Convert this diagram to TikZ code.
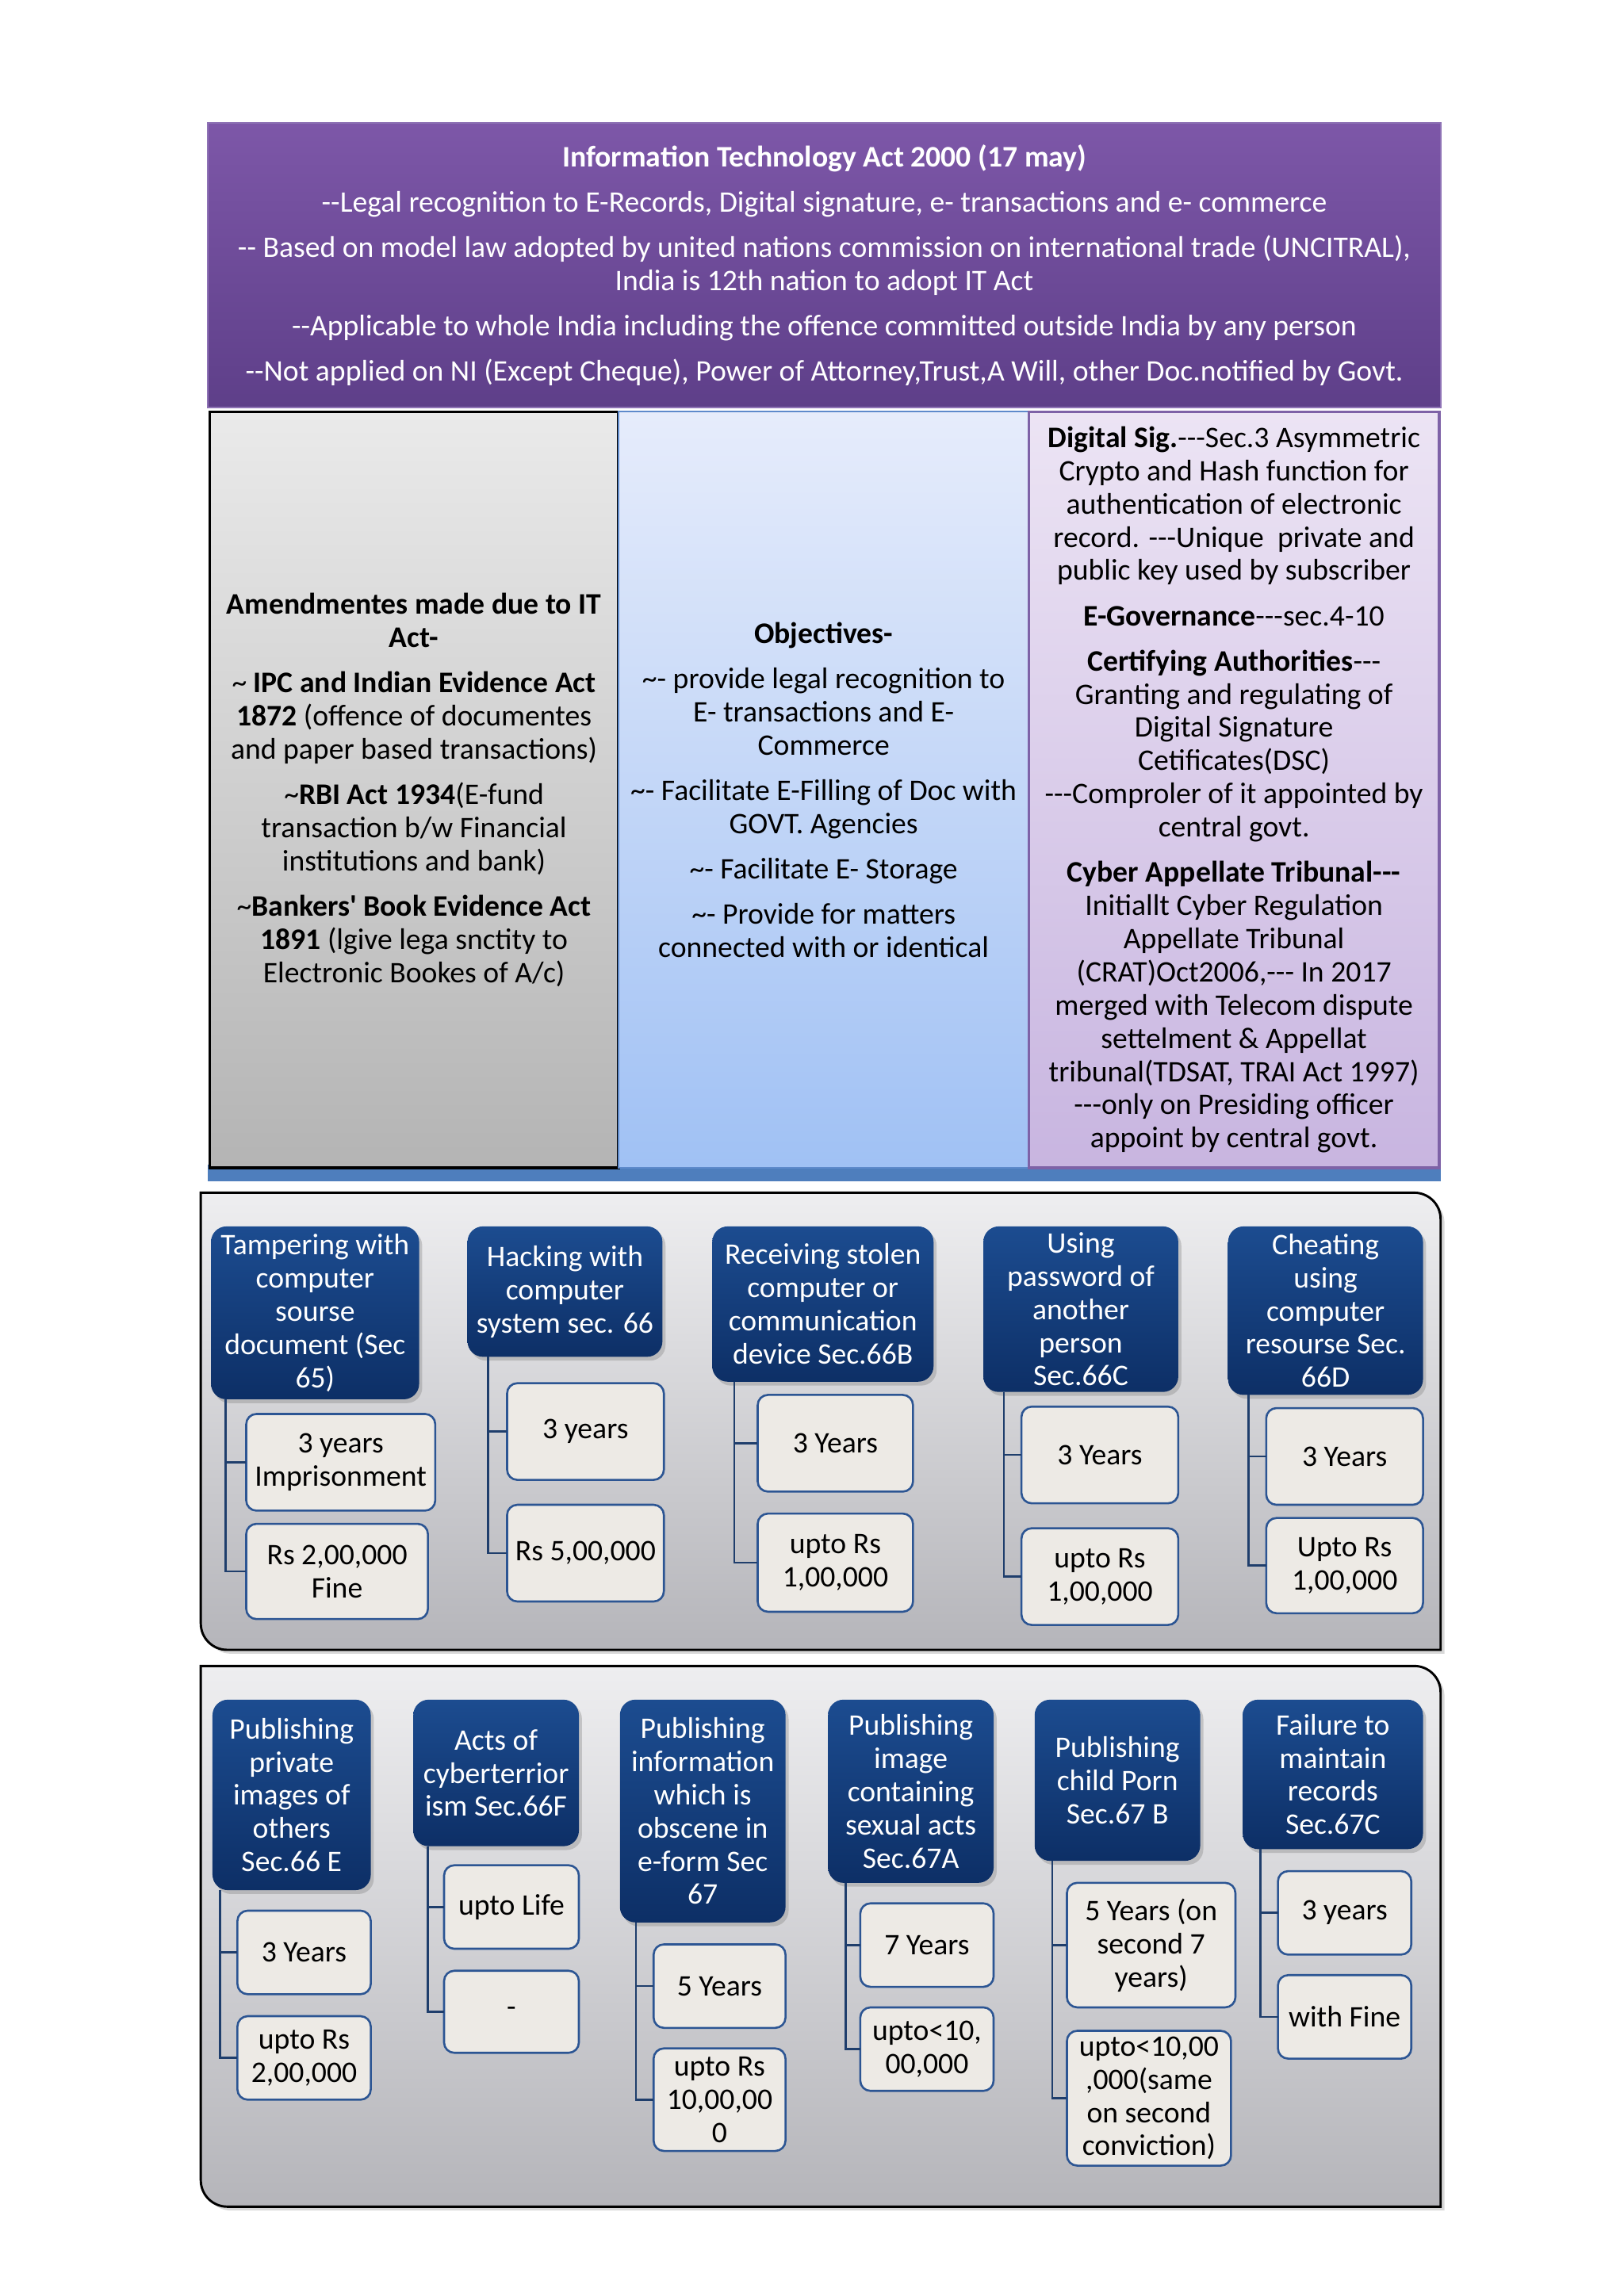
\documentclass[tikz,border=0pt]{standalone}
\usepackage{fontspec}
\newfontfamily\carl{Carlito}
\usetikzlibrary{shadows}
\definecolor{purT}{HTML}{7D57A8}
\definecolor{purB}{HTML}{5E3F89}
\definecolor{purE}{HTML}{8E72B5}
\definecolor{grT}{HTML}{EAEAEA}
\definecolor{grB}{HTML}{B4B4B4}
\definecolor{blT}{HTML}{E6ECFB}
\definecolor{blB}{HTML}{A0C1F4}
\definecolor{blE}{HTML}{5E8ACB}
\definecolor{lvT}{HTML}{ECE4F4}
\definecolor{lvB}{HTML}{C8B5E0}
\definecolor{lvE}{HTML}{7E62A7}
\definecolor{barC}{HTML}{4E7EBD}
\definecolor{navT}{HTML}{1C4C90}
\definecolor{navB}{HTML}{0D2F66}
\definecolor{kidF}{HTML}{EDEAE5}
\definecolor{kidE}{HTML}{2C5593}
\definecolor{conC}{HTML}{1F3E6C}
\definecolor{rowT}{HTML}{EEEEF0}
\definecolor{rowB}{HTML}{B5B5BA}
\newcommand\bx[7]{\node[#1,minimum width={((#5)-(#3))*0.02cm},minimum height={((#6)-(#4))*0.02cm}] (#2) at ({((#3)+(#5))/2},{((#4)+(#6))/2}) {#7};}
\begin{document}
\begin{tikzpicture}[x=0.02cm,y=-0.02cm,
 every node/.append style={font=\carl\fontsize{11.6}{12.9}\selectfont, inner sep=0pt, outer sep=0pt, align=center},
 purbox/.style={draw=purE, line width=0.6pt, top color=purT, bottom color=purB, text=white},
 colL/.style={draw=black, line width=1pt, top color=grT, bottom color=grB},
 colM/.style={draw=blE, line width=0.6pt, top color=blT, bottom color=blB},
 colR/.style={draw=lvE, line width=1pt, top color=lvT, bottom color=lvB},
 hdr/.style={rounded corners=6pt, top color=navT, bottom color=navB, text=white, drop shadow={shadow xshift=1.2pt, shadow yshift=-1.5pt, opacity=0.35}},
 kid/.style={rounded corners=4pt, draw=kidE, line width=0.8pt, fill=kidF},
 conn/.style={draw=conC, line width=0.8pt},
 rowbox/.style={draw=black, line width=0.9pt, top color=rowT, bottom color=rowB, drop shadow={shadow xshift=1.5pt, shadow yshift=-1.5pt, opacity=0.3}}
]
\fill[white] (0,0) rectangle (1108,1567);
\useasboundingbox (0,0) rectangle (1108,1567);

% ---------- header ----------
\bx{purbox}{top}{142}{84}{983}{278}{\textbf{Information Technology Act 2000 (17 may)}\\[4.7pt]
--Legal recognition to E-Records, Digital signature, e- transactions and e- commerce\\[4.7pt]
-- Based on model law adopted by united nations commission on international trade (UNCITRAL),\\ India is 12th nation to adopt IT Act\\[4.7pt]
--Applicable to whole India including the offence committed outside India by any person\\[4.7pt]
--Not applied on NI (Except Cheque), Power of Attorney,Trust,A Will, other Doc.notified by Govt.}

% ---------- columns ----------
\fill[barC] (142,795) rectangle (983,806);
\bx{colL}{amend}{143}{281}{422}{797}{\textbf{Amendmentes made due to IT}\\ \textbf{Act-}\\[4.7pt]
\textasciitilde\ \textbf{IPC and Indian Evidence Act}\\ \textbf{1872} (offence of documentes\\ and paper based transactions)\\[4.7pt]
\textasciitilde\textbf{RBI Act 1934}(E-fund\\ transaction b/w Financial\\ institutions and bank)\\[4.7pt]
\textasciitilde\textbf{Bankers' Book Evidence Act}\\ \textbf{1891} (lgive lega snctity to\\ Electronic Bookes of A/c)}
\bx{colM}{obj}{422}{281}{702}{797}{\textbf{Objectives-}\\[4.7pt]
\textasciitilde- provide legal recognition to\\ E- transactions and E-\\ Commerce\\[4.7pt]
\textasciitilde- Facilitate E-Filling of Doc with\\ GOVT. Agencies\\[4.7pt]
\textasciitilde- Facilitate E- Storage\\[4.7pt]
\textasciitilde- Provide for matters\\ connected with or identical}
\bx{colR}{dsig}{702}{281}{982}{797}{\textbf{Digital Sig.}---Sec.3 Asymmetric\\ Crypto and Hash function for\\ authentication of electronic\\ record. ---Unique\ \ private and\\ public key used by subscriber\\[4.7pt]
\textbf{E-Governance}---sec.4-10\\[4.7pt]
\textbf{Certifying Authorities}---\\ Granting and regulating of\\ Digital Signature\\ Cetificates(DSC)\\ ---Comproler of it appointed by\\ central govt.\\[4.7pt]
\textbf{Cyber Appellate Tribunal---}\\ Initiallt Cyber Regulation\\ Appellate Tribunal\\ (CRAT)Oct2006,--- In 2017\\ merged with Telecom dispute\\ settelment \& Appellat\\ tribunal(TDSAT, TRAI Act 1997)\\ ---only on Presiding officer\\ appoint by central govt.}

% ---------- row 1 ----------
\path[rowbox] (137,814) -- (965,814) arc[start angle=270,end angle=360,radius=18] -- (983,1126) -- (155,1126) arc[start angle=90,end angle=180,radius=18] -- cycle;

\bx{hdr}{h1}{144}{837}{286}{955}{Tampering with\\ computer\\ sourse\\ document (Sec\\ 65)}
\bx{kid}{k1a}{168}{965}{297}{1031}{3 years\\ Imprisonment}
\bx{kid}{k1b}{168}{1040}{292}{1105}{Rs 2,00,000\\ Fine}
\bx{hdr}{h2}{319}{837}{452}{926}{Hacking with\\ computer\\ system sec. 66}
\bx{kid}{k2a}{346}{944}{453}{1010}{3 years}
\bx{kid}{k2b}{346}{1027}{453}{1093}{Rs 5,00,000}
\bx{hdr}{h3}{486}{837}{637}{943}{Receiving stolen\\ computer or\\ communication\\ device Sec.66B}
\bx{kid}{k3a}{517}{952}{623}{1018}{3 Years}
\bx{kid}{k3b}{517}{1033}{623}{1100}{upto Rs\\ 1,00,000}
\bx{hdr}{h4}{671}{837}{804}{950}{Using\\ password of\\ another\\ person\\ Sec.66C}
\bx{kid}{k4a}{697}{960}{804}{1026}{3 Years}
\bx{kid}{k4b}{697}{1043}{804}{1109}{upto Rs\\ 1,00,000}
\bx{hdr}{h5}{838}{837}{971}{952}{Cheating\\ using\\ computer\\ resourse Sec.\\ 66D}
\bx{kid}{k5a}{864}{961}{971}{1027}{3 Years}
\bx{kid}{k5b}{864}{1036}{971}{1101}{Upto Rs\\ 1,00,000}

\coordinate (v1) at (154,0);
\coordinate (v2) at (333,0);
\coordinate (v3) at (501,0);
\coordinate (v4) at (685,0);
\coordinate (v5) at (852,0);
\foreach \i in {1,...,5}{
  \draw[conn] (h\i.south -| v\i) |- (k\i a.west);
  \draw[conn] (h\i.south -| v\i) |- (k\i b.west);
}

% ---------- row 2 ----------
\path[rowbox] (137,1137) -- (965,1137) arc[start angle=270,end angle=360,radius=18] -- (983,1506) -- (155,1506) arc[start angle=90,end angle=180,radius=18] -- cycle;

\bx{hdr}{g1}{145}{1160}{253}{1290}{Publishing\\ private\\ images of\\ others\\ Sec.66 E}
\bx{kid}{d1a}{162}{1304}{253}{1361}{3 Years}
\bx{kid}{d1b}{162}{1376}{253}{1433}{upto Rs\\ 2,00,000}
\bx{hdr}{g2}{282}{1160}{395}{1260}{Acts of\\ cyberterrior\\ ism Sec.66F}
\bx{kid}{d2a}{303}{1273}{395}{1330}{upto Life}
\bx{kid}{d2b}{303}{1345}{395}{1401}{-}
\bx{hdr}{g3}{423}{1160}{536}{1312}{Publishing\\ information\\ which is\\ obscene in\\ e-form Sec\\ 67}
\bx{kid}{d3a}{446}{1327}{536}{1384}{5 Years}
\bx{kid}{d3b}{446}{1398}{536}{1468}{upto Rs\\ 10,00,00\\ 0}
\bx{hdr}{g4}{565}{1160}{678}{1285}{Publishing\\ image\\ containing\\ sexual acts\\ Sec.67A}
\bx{kid}{d4a}{587}{1299}{678}{1356}{7 Years}
\bx{kid}{d4b}{587}{1370}{678}{1427}{upto\textless10,\\ 00,000}
\bx{hdr}{g5}{706}{1160}{819}{1270}{Publishing\\ child Porn\\ Sec.67 B}
\bx{kid}{d5a}{728}{1285}{843}{1370}{5 Years (on\\ second 7\\ years)}
\bx{kid}{d5b}{728}{1386}{840}{1478}{upto\textless10,00\\ ,000(same\\ on second\\ conviction)}
\bx{hdr}{g6}{848}{1160}{971}{1262}{Failure to\\ maintain\\ records\\ Sec.67C}
\bx{kid}{d6a}{872}{1277}{963}{1334}{3 years}
\bx{kid}{d6b}{872}{1348}{963}{1405}{with Fine}

\coordinate (w1) at (150,0);
\coordinate (w2) at (292,0);
\coordinate (w3) at (434,0);
\coordinate (w4) at (577,0);
\coordinate (w5) at (718,0);
\coordinate (w6) at (860,0);
\foreach \i in {1,...,6}{
  \draw[conn] (g\i.south -| w\i) |- (d\i a.west);
  \draw[conn] (g\i.south -| w\i) |- (d\i b.west);
}
\end{tikzpicture}
\end{document}
